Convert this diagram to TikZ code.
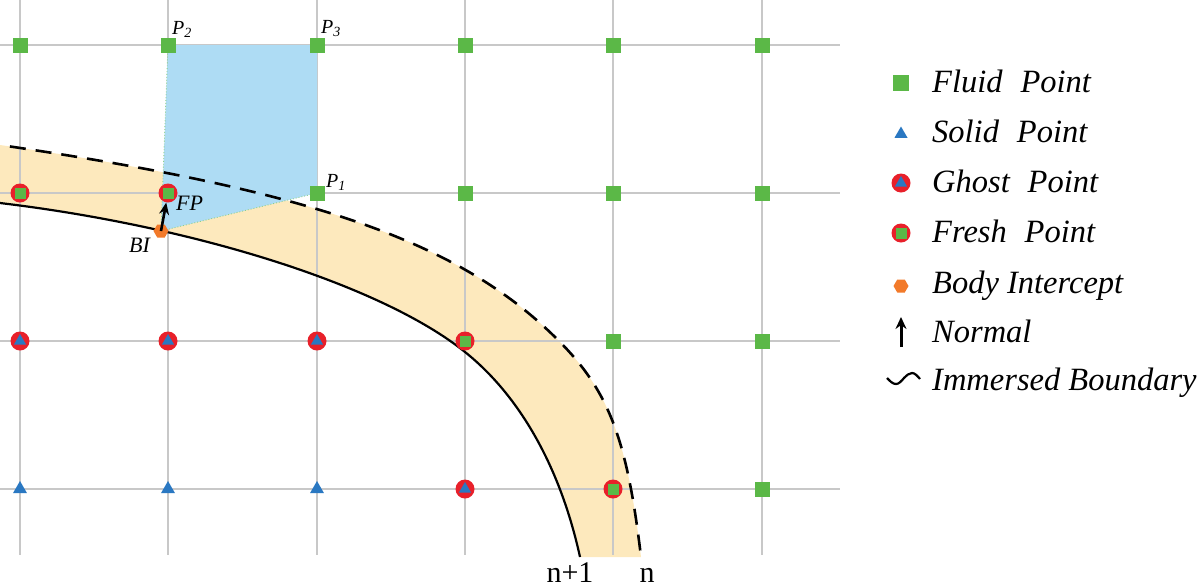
\documentclass[tikz,border=0pt]{standalone}
\usepackage{fontspec}
\setmainfont{Liberation Serif}
\usetikzlibrary{shapes.geometric,arrows.meta}
\definecolor{gridgray}{HTML}{C8C8C8}
\definecolor{fluidgreen}{HTML}{5BB847}
\definecolor{solidblue}{HTML}{2A78C2}
\definecolor{ghostred}{HTML}{E8202A}
\definecolor{hexorange}{HTML}{F27A2A}
\definecolor{bandbeige}{HTML}{FDE9BD}
\definecolor{polyblue}{HTML}{AEDCF4}
\definecolor{edgegreen}{HTML}{8ED08A}
\tikzset{
  gridline/.style={draw=gridgray, line width=1.3pt},
  fluid/.style={rectangle, fill=fluidgreen, minimum size=15pt, inner sep=0pt},
  solidpt/.style={regular polygon, regular polygon sides=3, fill=solidblue, minimum size=16pt, inner sep=0pt},
  ring/.style={circle, fill=ghostred, minimum size=19pt, inner sep=0pt},
  fluidin/.style={rectangle, fill=fluidgreen, minimum size=11pt, inner sep=0pt},
  solidin/.style={regular polygon, regular polygon sides=3, fill=solidblue, minimum size=14pt, inner sep=0pt},
  bodyint/.style={regular polygon, regular polygon sides=6, fill=hexorange, minimum size=15pt, inner sep=0pt},
  lab/.style={font=\fontsize{20}{24}\selectfont\itshape, inner sep=0pt},
  biglab/.style={font=\fontsize{22}{26}\selectfont\itshape, inner sep=0pt},
  legtext/.style={font=\fontsize{32.5}{37}\selectfont\itshape, inner sep=0pt, anchor=base west},
  curvelab/.style={font=\fontsize{30}{34}\selectfont, inner sep=0pt, anchor=base},
  normalarrow/.style={draw=black, line width=2.6pt, -{Stealth[length=12pt,width=10pt]}},
  legarrow/.style={draw=black, line width=3pt, -{Stealth[length=12pt,width=11pt]}},
  bound/.style={draw=black, line width=2.2pt},
  oldbound/.style={draw=black, line width=2.6pt, dash pattern=on 16pt off 10pt, dash phase=-10pt},
  polyedge/.style={draw=edgegreen, line width=0.9pt, dotted},
}
\begin{document}
\begin{tikzpicture}[x=1pt,y=-1pt]
\useasboundingbox (0,0) rectangle (1200,587);
% boundary end points
\coordinate (sA) at (0,203);
\coordinate (sB) at (465,352);
\coordinate (sC) at (580,557);
\coordinate (dA) at (0,145);
\coordinate (dB) at (558,340);
\coordinate (dC) at (641,557);
% band between boundaries
\fill[bandbeige] (sA) .. controls (197,226.6) and (383,286) .. (sB)
  .. controls (520.25,396.2) and (560.5,468) .. (sC) -- (dC)
  .. controls (627,438.4) and (608.7,390.7) .. (dB)
  .. controls (461,243) and (316,191) .. (dA) -- cycle;
% grid
\foreach \x in {20,168,317,465,613,762} \draw[gridline] (\x,0) -- (\x,555);
\foreach \y in {45,193,341,489} \draw[gridline] (0,\y) -- (840,\y);
% positions
\coordinate (cP2) at (168,45);
\coordinate (cP3) at (317,45);
\coordinate (cP1) at (317,193);
\coordinate (cBI) at (161,231);
% interpolation region
\fill[polyblue] (cP2) -- (cP3) -- (cP1) -- (cBI) -- cycle;
% boundaries
\draw[bound] (sA) .. controls (197,226.6) and (383,286) .. (sB)
  .. controls (520.25,396.2) and (560.5,468) .. (sC);
\draw[oldbound] (dA) .. controls (316,191) and (461,243) .. (dB)
  .. controls (608.7,390.7) and (627,438.4) .. (dC);
\draw[polyedge] (cP2) -- (cBI) -- (cP1);
% row 0
\node[fluid] (p00) at (20,45) {};
\node[fluid] (p01) at (cP2) {};
\node[fluid] (p02) at (cP3) {};
\node[fluid] (p03) at (465,45) {};
\node[fluid] (p04) at (613,45) {};
\node[fluid] (p05) at (762,45) {};
% row 1
\node[ring] (p10) at (20,193) {};
\node[fluidin] (p10i) at (p10) {};
\node[ring] (p11) at (168,193) {};
\node[fluidin] (p11i) at (p11) {};
\node[fluid] (p12) at (cP1) {};
\node[fluid] (p13) at (465,193) {};
\node[fluid] (p14) at (613,193) {};
\node[fluid] (p15) at (762,193) {};
% row 2
\node[ring] (p20) at (20,341) {};
\node[solidin] (p20i) at (p20) {};
\node[ring] (p21) at (168,341) {};
\node[solidin] (p21i) at (p21) {};
\node[ring] (p22) at (317,341) {};
\node[solidin] (p22i) at (p22) {};
\node[ring] (p23) at (465,341) {};
\node[fluidin] (p23i) at (p23) {};
\node[fluid] (p24) at (613,341) {};
\node[fluid] (p25) at (762,341) {};
% row 3
\node[solidpt] (p30) at (20,489) {};
\node[solidpt] (p31) at (168,489) {};
\node[solidpt] (p32) at (317,489) {};
\node[ring] (p33) at (465,489) {};
\node[solidin] (p33i) at (p33) {};
\node[ring] (p34) at (613,489) {};
\node[fluidin] (p34i) at (p34) {};
\node[fluid] (p35) at (762,489) {};
% body intercept and normal
\node[bodyint] (bi) at (cBI) {};
\draw[normalarrow] (bi.center) -- (p11);
% labels
\node[lab, anchor=base west] (lP2) at (172,34) {P\textsubscript{2}};
\node[lab, anchor=base west] (lP3) at (321,33) {P\textsubscript{3}};
\node[lab, anchor=base west] (lP1) at (326,187) {P\textsubscript{1}};
\node[biglab, anchor=base west] (lFP) at (176,210) {FP};
\node[biglab, anchor=base west] (lBI) at (129,252) {BI};
\node[curvelab] (lnp1) at (570,582) {n+1};
\node[curvelab] (ln) at (647,582) {n};
% legend
\node[fluid, minimum size=16pt] (leg1) at (901,83) {};
\node[legtext] (legt1) at (932,92) {Fluid\hspace{0.3em} Point};
\node[solidpt, minimum size=15pt] (leg2) at (901,134) {};
\node[legtext] (legt2) at (932,142) {Solid\hspace{0.3em} Point};
\node[ring] (leg3) at (901,183) {};
\node[solidin] (leg3i) at (leg3) {};
\node[legtext] (legt3) at (932,192) {Ghost\hspace{0.3em} Point};
\node[ring] (leg4) at (901,233) {};
\node[fluidin] (leg4i) at (leg4) {};
\node[legtext] (legt4) at (932,242) {Fresh\hspace{0.3em} Point};
\node[bodyint] (leg5) at (901,286) {};
\node[legtext] (legt5) at (932,293) {Body Intercept};
\coordinate (legAs) at (901,347);
\coordinate (legAe) at (901,317);
\draw[legarrow] (legAs) -- (legAe);
\node[legtext] (legt6) at (932,342) {Normal};
\coordinate (legW) at (887,378);
\draw[line width=2.2pt] (legW) sin (896,384) cos (904,378) sin (912,373) cos (920,379);
\node[legtext] (legt7) at (932,390) {Immersed Boundary};
\end{tikzpicture}
\end{document}
